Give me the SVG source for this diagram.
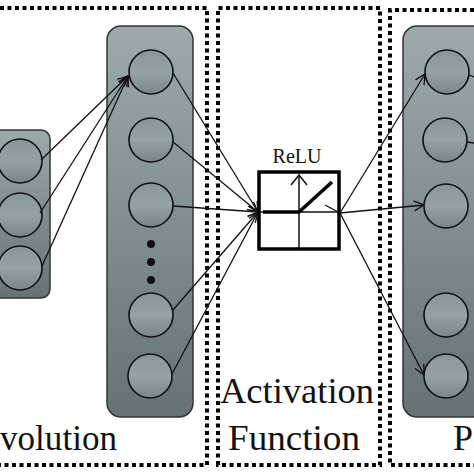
<svg xmlns="http://www.w3.org/2000/svg" width="474" height="474" viewBox="0 0 474 474">
<defs>
<linearGradient id="pg" x1="0" y1="0" x2="0" y2="1">
<stop offset="0" stop-color="#9eaaaa"/>
<stop offset="1" stop-color="#677373"/>
</linearGradient>
<linearGradient id="cg" x1="0" y1="0" x2="0" y2="1">
<stop offset="0" stop-color="#8a9696"/>
<stop offset="0.5" stop-color="#97a3a3"/>
<stop offset="1" stop-color="#7a8686"/>
</linearGradient>
<marker id="ah" viewBox="0 0 12 12" refX="11" refY="6" markerWidth="12" markerHeight="12" markerUnits="userSpaceOnUse" orient="auto">
<path d="M1,1 L11,6 L1,11" fill="none" stroke="#111" stroke-width="1.3"/>
</marker>
<style>
.dot{fill:none;stroke:#000;stroke-width:4;stroke-dasharray:4 3.5}
.panel{fill:url(#pg);stroke:#333;stroke-width:1.5}
.node{fill:url(#cg);stroke:#111;stroke-width:1.6}
.edge{fill:none;stroke:#111;stroke-width:1.3}
.arr{fill:none;stroke:#111;stroke-width:1.3;marker-end:url(#ah)}
</style>
</defs>
<rect width="474" height="474" fill="#fff"/>
<g id="frames">
<path class="dot" d="M0,8 H207 V465 H0"/>
<path class="dot" d="M218,465 V8 H380 V465 Z"/>
<path class="dot" d="M474,10 H390 V465 H474"/>
</g>
<g id="panels">
<rect class="panel" x="-12" y="130" width="62" height="168" rx="9"/>
<rect class="panel" x="107" y="26" width="86" height="391" rx="14"/>
<rect class="panel" x="403" y="26" width="90" height="391" rx="14"/>
</g>
<g id="input">
<circle class="node" cx="20" cy="161" r="22"/>
<circle class="node" cx="20" cy="215" r="22"/>
<circle class="node" cx="20" cy="268" r="22"/>
</g>
<g id="conv">
<circle class="node" cx="151" cy="72" r="22"/>
<circle class="node" cx="151" cy="140" r="22"/>
<circle class="node" cx="151" cy="205" r="22"/>
<circle cx="151" cy="244" r="4" fill="#111"/>
<circle cx="151" cy="262" r="4" fill="#111"/>
<circle cx="151" cy="280" r="4" fill="#111"/>
<circle class="node" cx="151" cy="315" r="22"/>
<circle class="node" cx="150" cy="376" r="22"/>
</g>
<g id="output">
<circle class="node" cx="447" cy="72" r="22"/>
<circle class="node" cx="445" cy="140" r="22"/>
<circle class="node" cx="446" cy="206" r="22"/>
<circle class="node" cx="446" cy="315" r="22"/>
<circle class="node" cx="446" cy="376" r="22"/>
</g>
<g id="relu">
<text x="297" y="163" text-anchor="middle" font-family="Liberation Serif, serif" font-size="20" fill="#111">ReLU</text>
<rect x="259" y="172" width="80" height="77" fill="#fff" stroke="#000" stroke-width="3.5"/>
<line x1="259" y1="212" x2="339" y2="212" stroke="#111" stroke-width="1.5"/>
<line x1="299" y1="249" x2="299" y2="175" stroke="#111" stroke-width="1.5"/>
<path d="M291,185 L299,175 L307,185" fill="none" stroke="#111" stroke-width="1.5"/>
<path d="M263,212 H299 L332,182" fill="none" stroke="#000" stroke-width="3.5"/>
</g>
<g id="connectors">
<line class="arr" x1="41" y1="160" x2="128" y2="76"/>
<line class="arr" x1="40" y1="213" x2="128" y2="76"/>
<line class="arr" x1="42" y1="266" x2="128" y2="76"/>
<line class="arr" x1="173" y1="73" x2="258" y2="212"/>
<line class="arr" x1="173" y1="142" x2="258" y2="212"/>
<line class="arr" x1="173" y1="206" x2="258" y2="212"/>
<line class="arr" x1="173" y1="310" x2="258" y2="212"/>
<line class="arr" x1="172" y1="374" x2="258" y2="212"/>
<line class="arr" x1="340" y1="213" x2="425" y2="74"/>
<line class="arr" x1="340" y1="213" x2="424" y2="205"/>
<line class="arr" x1="340" y1="213" x2="424" y2="375"/>
<line class="edge" x1="325" y1="205" x2="340" y2="213"/>
<line class="edge" x1="469" y1="75" x2="474" y2="77"/>
<line class="edge" x1="467" y1="142" x2="474" y2="143"/>
</g>
<g id="labels" font-family="Liberation Serif, serif" font-size="36" fill="#111">
<text x="0" y="450" textLength="117" lengthAdjust="spacingAndGlyphs">volution</text>
<text x="220" y="403" textLength="154" lengthAdjust="spacingAndGlyphs">Activation</text>
<text x="228" y="450" textLength="132" lengthAdjust="spacingAndGlyphs">Function</text>
<text x="453" y="450">P</text>
</g>
</svg>
